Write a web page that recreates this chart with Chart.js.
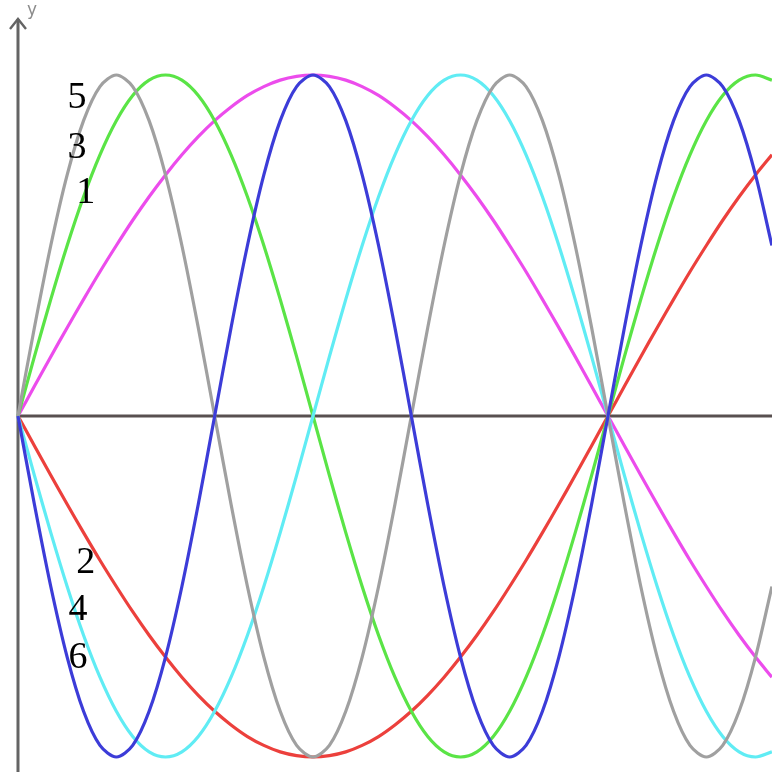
<!DOCTYPE html>
<html>
<head>
<meta charset="utf-8">
<script src="https://cdn.jsdelivr.net/npm/chart.js@4"></script>
<style>
html,body{margin:0;padding:0;background:#fff;overflow:hidden;}
#wrap{width:772px;height:772px;}
#c{width:772px;height:772px;display:block;}
</style>
</head>
<body>
<div id="wrap"><canvas id="c" width="772" height="772"></canvas></div>
<script>
// x positions in degrees (half-wavelength of mode 1 = 180)
const xDeg = [0,5,10,15,20,25,30,35,40,45,50,55,60,65,70,75,80,85,90,95,100,105,110,115,120,125,130,135,140,145,150,155,160,165,170,175,180,185,190,195,200,205,210,215,220,225,230];
// mode values (amplitude normalised to 1)
const mode1 = [0,0.087,0.174,0.259,0.342,0.423,0.500,0.574,0.643,0.707,0.766,0.819,0.866,0.906,0.940,0.966,0.985,0.996,1,0.996,0.985,0.966,0.940,0.906,0.866,0.819,0.766,0.707,0.643,0.574,0.500,0.423,0.342,0.259,0.174,0.087,0,-0.087,-0.174,-0.259,-0.342,-0.423,-0.500,-0.574,-0.643,-0.707,-0.766];
const mode2 = [0,-0.087,-0.174,-0.259,-0.342,-0.423,-0.500,-0.574,-0.643,-0.707,-0.766,-0.819,-0.866,-0.906,-0.940,-0.966,-0.985,-0.996,-1,-0.996,-0.985,-0.966,-0.940,-0.906,-0.866,-0.819,-0.766,-0.707,-0.643,-0.574,-0.500,-0.423,-0.342,-0.259,-0.174,-0.087,0,0.087,0.174,0.259,0.342,0.423,0.500,0.574,0.643,0.707,0.766];
const mode3 = [0,0.174,0.342,0.500,0.643,0.766,0.866,0.940,0.985,1,0.985,0.940,0.866,0.766,0.643,0.500,0.342,0.174,0,-0.174,-0.342,-0.500,-0.643,-0.766,-0.866,-0.940,-0.985,-1,-0.985,-0.940,-0.866,-0.766,-0.643,-0.500,-0.342,-0.174,0,0.174,0.342,0.500,0.643,0.766,0.866,0.940,0.985,1,0.985];
const mode4 = [0,-0.174,-0.342,-0.500,-0.643,-0.766,-0.866,-0.940,-0.985,-1,-0.985,-0.940,-0.866,-0.766,-0.643,-0.500,-0.342,-0.174,0,0.174,0.342,0.500,0.643,0.766,0.866,0.940,0.985,1,0.985,0.940,0.866,0.766,0.643,0.500,0.342,0.174,0,-0.174,-0.342,-0.500,-0.643,-0.766,-0.866,-0.940,-0.985,-1,-0.985];
const mode5 = [0,0.259,0.500,0.707,0.866,0.966,1,0.966,0.866,0.707,0.500,0.259,0,-0.259,-0.500,-0.707,-0.866,-0.966,-1,-0.966,-0.866,-0.707,-0.500,-0.259,0,0.259,0.500,0.707,0.866,0.966,1,0.966,0.866,0.707,0.500,0.259,0,-0.259,-0.500,-0.707,-0.866,-0.966,-1,-0.966,-0.866,-0.707,-0.500];
const mode6 = [0,-0.259,-0.500,-0.707,-0.866,-0.966,-1,-0.966,-0.866,-0.707,-0.500,-0.259,0,0.259,0.500,0.707,0.866,0.966,1,0.966,0.866,0.707,0.500,0.259,0,-0.259,-0.500,-0.707,-0.866,-0.966,-1,-0.966,-0.866,-0.707,-0.500,-0.259,0,0.259,0.500,0.707,0.866,0.966,1,0.966,0.866,0.707,0.500];
// label texts and their positions in data coordinates
const labelText = ['5','3','1','2','4','6'];
const labelX = [18.0,18.0,20.7,20.7,18.3,18.3];
const labelY = [0.935,0.79,0.657,-0.428,-0.566,-0.707];

const colors = {
  m1:'rgb(236,76,236)', m2:'rgb(236,64,60)', m3:'rgb(90,228,70)',
  m4:'rgb(96,236,244)', m5:'rgb(160,160,160)', m6:'rgb(60,60,216)'
};
function pts(arr){ return xDeg.map((x,i)=>({x:x,y:arr[i]})); }
function ds(arr,col,ord){
  return {data:pts(arr),borderColor:col,borderWidth:3.2,pointRadius:0,tension:0.3,fill:false,order:ord};
}

const axesPlugin = {
  id:'axes',
  beforeDatasetsDraw(chart){
    const {ctx,scales:{x,y}} = chart;
    const x0 = x.getPixelForValue(0), y0 = y.getPixelForValue(0);
    ctx.save();
    // x axis
    ctx.strokeStyle='rgb(88,80,80)'; ctx.lineWidth=3;
    ctx.beginPath(); ctx.moveTo(x0,y0); ctx.lineTo(chart.width,y0); ctx.stroke();
    // y axis with arrow
    ctx.strokeStyle='rgb(100,100,100)';
    ctx.beginPath(); ctx.moveTo(x0,chart.height); ctx.lineTo(x0,19); ctx.stroke();
    ctx.lineWidth=2.4;
    ctx.beginPath(); ctx.moveTo(x0-8,29); ctx.lineTo(x0,19); ctx.lineTo(x0+8,29); ctx.stroke();
    ctx.fillStyle='rgb(140,140,140)';
    ctx.font='17px "DejaVu Sans"'; ctx.textAlign='left'; ctx.textBaseline='middle';
    ctx.fillText('y',x0+9,11);
    ctx.restore();
  },
  afterDatasetsDraw(chart){
    const {ctx,scales:{x,y}} = chart;
    ctx.save();
    ctx.fillStyle='#000';
    ctx.font='38px "Liberation Serif"'; ctx.textAlign='center'; ctx.textBaseline='middle';
    labelText.forEach((t,i)=>{
      ctx.fillText(t,x.getPixelForValue(labelX[i]),y.getPixelForValue(labelY[i])+1);
    });
    ctx.restore();
  }
};

new Chart(document.getElementById('c'),{
  type:'line',
  data:{datasets:[
    ds(mode6,colors.m6,1), ds(mode5,colors.m5,2), ds(mode4,colors.m4,3),
    ds(mode3,colors.m3,4), ds(mode2,colors.m2,5), ds(mode1,colors.m1,6)
  ]},
  options:{
    responsive:false,animation:false,devicePixelRatio:1,
    layout:{padding:0,autoPadding:false},
    plugins:{legend:{display:false},tooltip:{enabled:false}},
    scales:{
      x:{type:'linear',min:-5.49,max:230.03,display:false},
      y:{type:'linear',min:-1.044,max:1.2199,display:false}
    }
  },
  plugins:[axesPlugin]
});
</script>
</body>
</html>
